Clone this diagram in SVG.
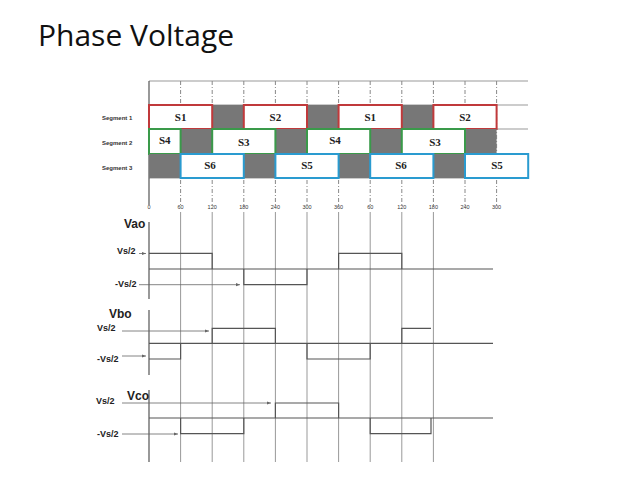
<svg xmlns="http://www.w3.org/2000/svg" width="638" height="478" viewBox="0 0 638 478">
<defs>
<marker id="ar" markerWidth="6" markerHeight="6" refX="5" refY="3" orient="auto"><path d="M0,1 L5,3 L0,5 Z" fill="#666"/></marker>
</defs>
<style>
.g{stroke:#999;stroke-width:1;fill:none}
.d{stroke:#888;stroke-width:1;stroke-dasharray:4,2,1,2;fill:none}
.gr{fill:#777;stroke:none}
.r{fill:#fff;stroke:#c0393b;stroke-width:2}
.gn{fill:#fff;stroke:#3a9a4a;stroke-width:2}
.b{fill:#fff;stroke:#2a9bd0;stroke-width:2}
.s{font-family:"Liberation Serif",serif;font-weight:bold;font-size:11px;text-anchor:middle;fill:#222}
.seg{font-family:"Liberation Sans",sans-serif;font-weight:bold;font-size:6px;fill:#333}
.tk{font-family:"Liberation Sans",sans-serif;font-size:5.5px;text-anchor:middle;fill:#333}
.w{stroke:#555;stroke-width:1.2;fill:none}
.l{font-family:"Liberation Sans",sans-serif;font-weight:bold;font-size:9px;fill:#222}
.v{font-family:"Liberation Sans",sans-serif;font-weight:bold;font-size:12px;fill:#222}
.a{stroke:#666;stroke-width:0.8;fill:none;marker-end:url(#ar)}
</style>
<rect width="638" height="478" fill="#fff"/>
<text x="38" y="46" font-family="'Open Sans','Liberation Sans',sans-serif" font-size="30" fill="#111">Phase Voltage</text>
<g id="grid">
<path class="g" d="M149,81H528M149,105H528M149,129H528M149,154H528M149,178H528"/>
<path class="d" d="M180.6,81V205M212.2,81V205M243.8,81V205M275.4,81V205M307,81V205M338.6,81V205M370.2,81V205M401.8,81V205M433.4,81V205M465,81V205M496.6,81V205"/>
<path class="g" d="M180.6,212V462M212.2,212V462M243.8,212V462M275.4,212V462M307,212V462M338.6,212V462M370.2,212V462M401.8,212V462M433.4,212V462"/>
<path stroke="#555" stroke-width="1.2" d="M149,81V205M149,222V299M149,310V375M149,390V462"/>
</g>
<g id="ticks">
<text class="tk" x="149" y="209">0</text><text class="tk" x="180.6" y="209">60</text><text class="tk" x="212.2" y="209">120</text><text class="tk" x="243.8" y="209">180</text><text class="tk" x="275.4" y="209">240</text><text class="tk" x="307" y="209">300</text><text class="tk" x="338.6" y="209">360</text><text class="tk" x="370.2" y="209">60</text><text class="tk" x="401.8" y="209">120</text><text class="tk" x="433.4" y="209">180</text><text class="tk" x="465" y="209">240</text><text class="tk" x="496.6" y="209">300</text>
</g>
<g id="segment1">
<text class="seg" x="102" y="120">Segment 1</text>
<rect class="gr" x="212.2" y="105" width="31.6" height="24"/><rect class="gr" x="307" y="105" width="31.6" height="24"/><rect class="gr" x="401.8" y="105" width="31.6" height="24"/>
<rect class="r" x="149" y="105" width="63.2" height="24"/><text class="s" x="180.6" y="121">S1</text>
<rect class="r" x="243.8" y="105" width="63.2" height="24"/><text class="s" x="275.4" y="121">S2</text>
<rect class="r" x="338.6" y="105" width="63.2" height="24"/><text class="s" x="370.2" y="121">S1</text>
<rect class="r" x="433.4" y="105" width="63.2" height="24"/><text class="s" x="465" y="121">S2</text>
</g>
<g id="segment2">
<text class="seg" x="102" y="145">Segment 2</text>
<rect class="gr" x="180.6" y="129" width="31.6" height="25"/><rect class="gr" x="275.4" y="129" width="31.6" height="25"/><rect class="gr" x="370.2" y="129" width="31.6" height="25"/><rect class="gr" x="465" y="129" width="31.6" height="25"/>
<rect class="gn" x="149" y="129" width="31.6" height="25"/><text class="s" x="164.8" y="144">S4</text>
<rect class="gn" x="212.2" y="129" width="63.2" height="25"/><text class="s" x="243.8" y="146">S3</text>
<rect class="gn" x="307" y="129" width="63.2" height="25"/><text class="s" x="335" y="144">S4</text>
<rect class="gn" x="401.8" y="129" width="63.2" height="25"/><text class="s" x="435" y="146">S3</text>
</g>
<g id="segment3">
<text class="seg" x="102" y="170">Segment 3</text>
<rect class="gr" x="149" y="154" width="31.6" height="24"/><rect class="gr" x="243.8" y="154" width="31.6" height="24"/><rect class="gr" x="338.6" y="154" width="31.6" height="24"/><rect class="gr" x="433.4" y="154" width="31.6" height="24"/>
<rect class="b" x="180.6" y="154" width="63.2" height="24"/><text class="s" x="210" y="169">S6</text>
<rect class="b" x="275.4" y="154" width="63.2" height="24"/><text class="s" x="307" y="169">S5</text>
<rect class="b" x="370.2" y="154" width="63.2" height="24"/><text class="s" x="401" y="169">S6</text>
<rect class="b" x="465" y="154" width="63.2" height="24"/><text class="s" x="497" y="169">S5</text>
</g>
<g id="vao">
<text class="v" x="124" y="228">Vao</text>
<text class="l" x="117" y="254">Vs/2</text>
<text class="l" x="115" y="287">-Vs/2</text>
<path class="w" d="M149,269H493M149,253.3H212.2V269M243.8,269V284.7H307V269M338.6,269V253.3H401.8V269"/>
<path class="a" d="M139,253.5H146"/><path class="a" d="M139,284.7H240"/>
</g>
<g id="vbo">
<text class="v" x="109" y="318">Vbo</text>
<text class="l" x="97" y="331">Vs/2</text>
<text class="l" x="97" y="362">-Vs/2</text>
<path class="w" d="M149,343.3H493M149,359H180.6V343.3M212.2,343.3V328.3H275.4V343.3M307,343.3V359H370.2V343.3M401.8,343.3V328.3H431"/>
<path class="a" d="M122,331H209"/><path class="a" d="M122,356H146"/>
</g>
<g id="vco">
<text class="v" x="127" y="400">Vco</text>
<text class="l" x="96" y="404">Vs/2</text>
<text class="l" x="97" y="437">-Vs/2</text>
<path class="w" d="M149,418H493M180.6,418V433.7H243.8V418M275.4,418V403H338.6V418M370.2,418V433.7H431V418"/>
<path class="a" d="M122,403H271"/><path class="a" d="M122,434H178"/>
</g>
</svg>
